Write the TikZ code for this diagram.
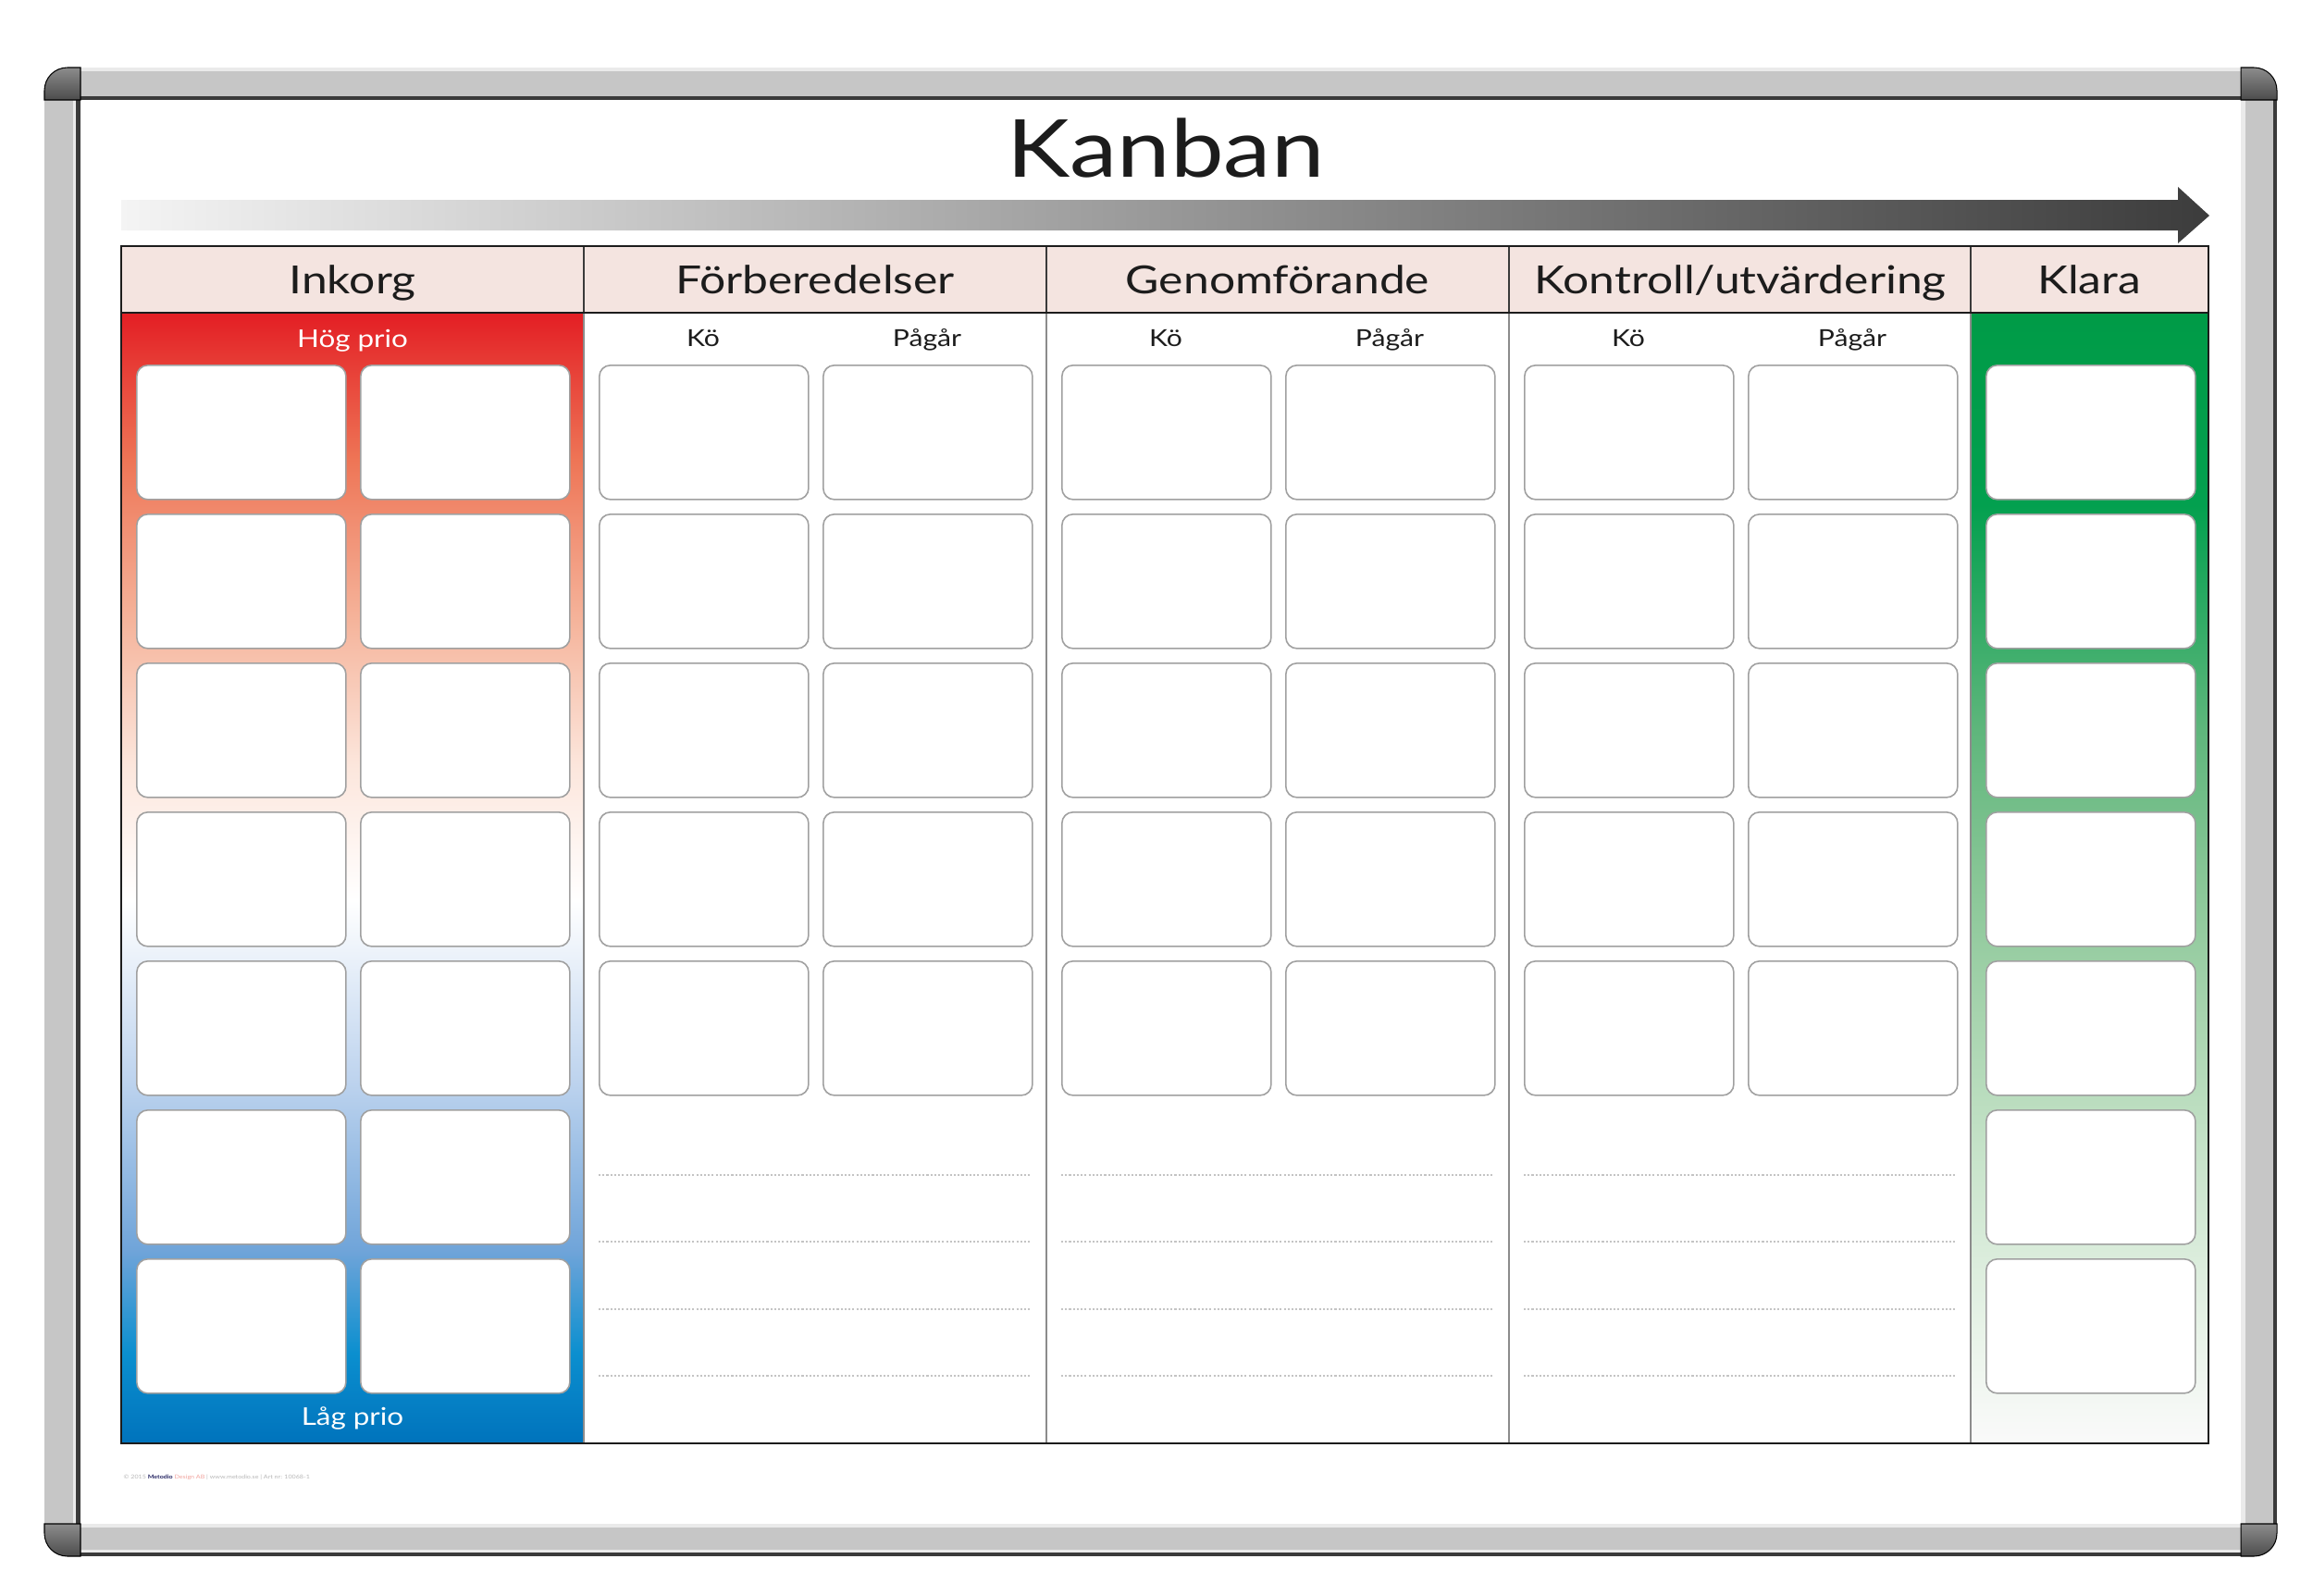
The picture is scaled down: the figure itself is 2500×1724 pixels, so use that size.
\documentclass[tikz,border=0pt]{standalone}
\usepackage{fontspec}
\setmainfont{Lato}[FakeStretch=1.19]
\usetikzlibrary{positioning}

% board colours
\definecolor{railgrey}{HTML}{C6C6C6}
\definecolor{raillight}{HTML}{EAEAEA}
\definecolor{raildark}{HTML}{3A3A3A}
\definecolor{capdark}{HTML}{4C4C4C}
\definecolor{caplight}{HTML}{8C8C8C}
\definecolor{headpink}{HTML}{F4E4E0}
\definecolor{inkblack}{HTML}{1C1C1C}
\definecolor{cardgrey}{HTML}{A0A0A0}
\definecolor{gridgrey}{HTML}{8C8C8C}
\definecolor{dotgrey}{HTML}{C4C4C4}
\definecolor{arrowlight}{HTML}{F4F4F4}
\definecolor{arrowdark}{HTML}{3C3C3C}
\definecolor{footgrey}{HTML}{B8B8B8}
\definecolor{footnavy}{HTML}{2A2A66}
\definecolor{footpink}{HTML}{F2A6A0}
% prio colours, top to bottom
\definecolor{prioA}{HTML}{E31E24}
\definecolor{prioB}{HTML}{EE7556}
\definecolor{prioC}{HTML}{F5B39A}
\definecolor{prioD}{HTML}{FCE6DC}
\definecolor{prioE}{HTML}{FFFFFF}
\definecolor{prioF}{HTML}{BDD3EE}
\definecolor{prioG}{HTML}{6FA4D9}
\definecolor{prioH}{HTML}{0B8FCF}
\definecolor{prioI}{HTML}{0073BC}
% done colours, top to bottom
\definecolor{doneA}{HTML}{009B47}
\definecolor{doneB}{HTML}{03A04F}
\definecolor{doneC}{HTML}{5FB67C}
\definecolor{doneD}{HTML}{88C696}
\definecolor{doneE}{HTML}{ACD6B2}
\definecolor{doneF}{HTML}{CDE6CF}
\definecolor{doneG}{HTML}{E8F3E8}
\definecolor{doneH}{HTML}{FAFAFA}

\pgfdeclareverticalshading{prioshade}{100bp}{%
  color(0bp)=(prioI); color(25bp)=(prioI); color(29bp)=(prioH);
  color(33.5bp)=(prioG); color(41bp)=(prioF); color(49bp)=(prioE);
  color(55bp)=(prioD); color(61.5bp)=(prioC); color(68.5bp)=(prioB);
  color(75bp)=(prioA); color(100bp)=(prioA)}
\pgfdeclareverticalshading{doneshade}{100bp}{%
  color(0bp)=(doneH); color(25bp)=(doneH); color(30bp)=(doneG);
  color(36.5bp)=(doneF); color(43bp)=(doneE); color(50bp)=(doneD);
  color(56.5bp)=(doneC); color(66.5bp)=(doneB); color(75bp)=(doneA);
  color(100bp)=(doneA)}

\begin{document}
\begin{tikzpicture}[x=0.01cm, y=-0.01cm,
    card/.style={draw=cardgrey, line width=0.45pt, fill=white,
      rounded corners=0.12cm, minimum width=2.26cm, minimum height=1.45cm,
      anchor=north west, inner sep=0pt},
    titletext/.style={font=\fontsize{24.6pt}{29pt}\selectfont, text=inkblack, anchor=base},
    colhead/.style={font=\fontsize{11.9pt}{14pt}\selectfont, text=inkblack, anchor=base},
    sublabel/.style={font=\fontsize{7.2pt}{9pt}\selectfont, text=inkblack, anchor=base},
    priolabel/.style={font=\fontsize{7.5pt}{9pt}\selectfont, text=white, anchor=base},
    footer/.style={font=\fontsize{1.7pt}{2pt}\selectfont, text=footgrey, anchor=base west, inner sep=0pt},
    capshade/.style={top color=caplight, bottom color=capdark, draw=black, line width=0.3pt},
    dotline/.style={draw=dotgrey, line width=0.3pt, dash pattern=on 0.6pt off 0.6pt},
  ]
  \useasboundingbox (0,0) rectangle (2500,1724);

  % Draw frame
  \fill[white] (87,108) rectangle (2422,1647);
  \fill[railgrey] (87,73) rectangle (2422,108);
  \fill[raillight] (87,73) rectangle (2422,77);
  \fill[raildark] (87,104) rectangle (2422,108);
  \fill[railgrey] (87,1647) rectangle (2422,1682);
  \fill[raillight] (87,1647) rectangle (2422,1651);
  \fill[raillight] (87,1675) rectangle (2422,1678);
  \fill[raildark] (87,1678) rectangle (2422,1682);
  \fill[railgrey] (48,108) rectangle (87,1647);
  \fill[raillight] (79,108) rectangle (82,1647);
  \fill[raildark] (82,108) rectangle (87,1647);
  \fill[railgrey] (2422,108) rectangle (2461,1647);
  \fill[raillight] (2422,108) rectangle (2427,1647);
  \fill[raildark] (2457,108) rectangle (2461,1647);
  % corner caps
  \shade[capshade] (87,108) -- (48,108) -- (48,98) .. controls (48,84) and (59,73) .. (73,73) -- (87,73) -- cycle;
  \shade[capshade] (2422,108) -- (2461,108) -- (2461,98) .. controls (2461,84) and (2450,73) .. (2436,73) -- (2422,73) -- cycle;
  \shade[capshade] (87,1647) -- (48,1647) -- (48,1657) .. controls (48,1671) and (59,1682) .. (73,1682) -- (87,1682) -- cycle;
  \shade[capshade] (2422,1647) -- (2461,1647) -- (2461,1657) .. controls (2461,1671) and (2450,1682) .. (2436,1682) -- (2422,1682) -- cycle;

  % Title and flow arrow
  \node[titletext] (title) at (1260,191) {Kanban};
  \shade[left color=arrowlight, right color=arrowdark]
    (131,216) -- (2354,216) -- (2354,202) -- (2388,233) -- (2354,263) -- (2354,249) -- (131,249) -- cycle;

  % Columns
  \fill[headpink] (131,266) rectangle (2387,338);
  \shade[shading=prioshade] (131,338) rectangle (631,1560);
  \shade[shading=doneshade] (2130,338) rectangle (2387,1560);
  \foreach \x in {631,1131,1631,2130} {
    \draw[gridgrey, line width=0.4pt] (\x,338) -- (\x,1560);
    \draw[raildark, line width=0.4pt] (\x,266) -- (\x,338);
  }
  \draw[inkblack, line width=0.6pt] (131,338) -- (2387,338);
  \draw[inkblack, line width=0.6pt] (131,266) rectangle (2387,1560);

  \node[colhead] (inkorg) at (381,317) {Inkorg};
  \node[colhead] (forb) at (881,317) {Förberedelser};
  \node[colhead] (genom) at (1381,317) {Genomförande};
  \node[colhead] (kontroll) at (1881,317) {Kontroll/utvärdering};
  \node[colhead] (klara) at (2258,317) {Klara};

  \node[priolabel] (hog) at (381,375) {Hög prio};
  \node[priolabel] (lag) at (381,1540) {Låg prio};
  \foreach \c/\n in {1/forb,2/genom,3/kontroll} {
    \node[sublabel] (ko-\n) at (260+500*\c,374) {Kö};
    \node[sublabel] (pagar-\n) at (502+500*\c,374) {Pågår};
  }

  % Cards
  \foreach \c in {0,...,3}
    \foreach \r in {0,...,4} {
      \node[card] (card-\c-\r-a) at (147+500*\c,394+161*\r) {};
      \node[card] (card-\c-\r-b) at (389+500*\c,394+161*\r) {};
    }
  \foreach \r in {5,6} {
    \node[card] (card-0-\r-a) at (147,394+161*\r) {};
    \node[card] (card-0-\r-b) at (389,394+161*\r) {};
  }
  \foreach \r in {0,...,6}
    \node[card] (done-\r) at (2146,394+161*\r) {};

  % ruled lines under the cards
  \foreach \c in {1,2,3}
    \foreach \y in {1270,1342,1415,1487}
      \draw[dotline] (147+500*\c,\y) -- (614+500*\c,\y);

  % footer
  \node[footer] (credit) at (133,1598) {© 2015 \textcolor{footnavy}{\textbf{Metodio}} \textcolor{footpink}{Design AB} | www.metodio.se | Art nr: 10068-1};
\end{tikzpicture}
\end{document}
